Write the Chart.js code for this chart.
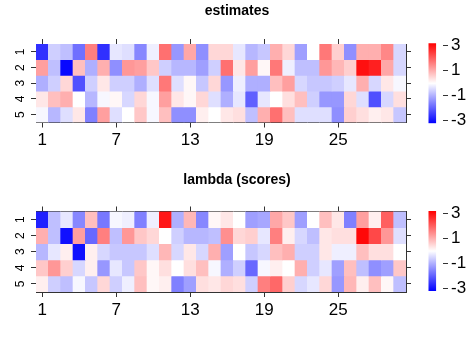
<!DOCTYPE html>
<html>
<head>
<meta charset="utf-8">
<script src="https://cdn.jsdelivr.net/npm/chart.js@4.4.0/dist/chart.umd.min.js"></script>
<style>
  body { margin: 0; background: #fff; }
  #wrap { position: relative; width: 474px; height: 338px; }
  canvas { position: absolute; }
</style>
</head>
<body>
<div id="wrap">
  <canvas id="heatTop" width="474" height="168" style="left:0;top:0"></canvas>
  <canvas id="heatBottom" width="474" height="170" style="left:0;top:168px"></canvas>
  <canvas id="barTop" width="54" height="168" style="left:420px;top:0"></canvas>
  <canvas id="barBottom" width="54" height="170" style="left:420px;top:168px"></canvas>
</div>
<script>
// colonnes et lignes
const colLabels = Array.from({ length: 30 }, (_, i) => String(i + 1));
const rowLabels = [1, 2, 3, 4, 5];
const colorbarTicks = [-3, -2, -1, 0, 1, 2, 3];
const colorLimit = 3.2;

// valeurs (ligne 1 en haut)
const estimates1 = [-2.6, -0.6, -0.8, -1.8, 1.6, -2.6, -0.3, -0.4, -1.5, -0.2, 1.8, -1.3, 1.1, -1.4, 0.5, 0.5, -0.3, -0.9, -0.7, 1.0, 0.5, -1.2, 0.0, 1.7, 0.6, -1.4, 1.0, 1.0, 1.5, -0.5];
const estimates2 = [1.2, -0.8, -3.1, 0.8, -1.0, 1.0, -1.4, 1.3, 1.2, 0.7, -0.6, -0.9, -0.9, -1.2, -0.6, 1.8, 0.3, 1.2, 0.1, 1.7, -0.2, -0.8, -0.8, 1.3, 0.9, 0.6, 3.0, 2.8, 1.1, -0.5];
const estimates3 = [-1.0, -0.6, 0.5, -2.2, -0.6, 0.3, -0.6, -0.6, -1.0, -0.4, 1.7, -0.4, 0.1, -0.7, 0.5, -1.3, -0.2, -1.0, -1.0, 0.8, 1.2, -0.5, -0.7, -0.7, -0.6, -0.3, 1.0, -0.5, 0.3, -0.1];
const estimates4 = [0.3, 0.8, 1.0, 0.0, -0.9, -0.1, 0.1, -0.5, 0.5, -0.1, 1.2, 0.3, 0.1, 0.5, -0.4, -1.0, -0.3, -2.0, -0.3, 0.0, 0.4, 0.8, -0.6, -1.3, -1.3, 0.5, -0.4, -2.2, -0.5, 0.4];
const estimates5 = [-0.1, -0.9, -0.4, 0.3, -1.6, 1.2, -0.4, 0.0, 0.7, -0.1, 0.8, -1.4, -1.4, 0.2, 0.0, 0.3, 0.4, -0.8, 1.0, 1.8, 0.8, -0.4, -0.4, -0.4, -1.4, 0.6, 0.4, 0.2, 0.3, -0.7];

const lambda1 = [-2.8, -0.8, -0.3, -1.5, 0.8, -1.7, -0.1, -0.2, -1.6, -0.2, 2.9, -1.0, 0.9, -1.5, 0.1, 0.3, 0.0, -1.2, -1.1, 1.1, 0.7, -1.2, 0.0, 0.8, 0.3, -1.6, 1.2, 0.2, 2.0, -0.8];
const lambda2 = [1.0, -0.8, -3.0, 1.2, -1.9, 1.6, -0.8, 1.3, 0.7, 0.5, 0.0, -0.6, -0.9, -0.9, -0.8, 1.4, 0.5, 0.6, -0.3, 1.6, 0.2, -0.5, -0.8, 0.3, 0.4, 0.4, 3.1, 2.3, 1.3, -0.4];
const lambda3 = [-0.9, -0.3, 0.2, -3.0, 0.2, -0.5, -0.7, -0.7, -0.7, -0.4, 0.9, -0.5, 0.3, -0.5, 1.0, -1.2, 0.0, -0.7, -0.5, 0.8, 1.0, -0.6, -0.6, 0.3, -0.2, -0.2, 0.8, 0.4, 0.4, 0.0];
const lambda4 = [0.7, 1.3, 0.6, -0.5, 0.2, -1.3, -0.3, -0.7, 0.7, 0.1, 0.4, 0.0, 0.4, 0.8, -0.1, -1.0, -0.6, -1.9, -0.1, 0.2, 0.0, 1.0, -0.6, -0.3, -1.2, 0.8, -0.8, -1.4, -1.2, 0.7];
const lambda5 = [0.2, -0.6, -0.8, -0.1, -0.7, 0.5, -0.6, -0.2, 0.8, 0.1, 0.2, -1.6, -1.2, 0.4, 0.3, 0.5, 0.4, -0.6, 1.6, 1.9, 0.6, -0.5, -0.3, 0.5, -1.3, 0.9, 0.2, 0.8, 0.1, -0.8];

const FONT = '"Liberation Sans", Arial, sans-serif';
const FRAME = '#333';

// bleu -> blanc -> rouge
function colorFor(v) {
  let t = (v + colorLimit) / (2 * colorLimit);
  t = Math.max(0, Math.min(1, t));
  if (t < 0.5) {
    const c = Math.round(255 * t * 2);
    return `rgb(${c},${c},255)`;
  }
  const c = Math.round(255 * (2 - 2 * t));
  return `rgb(255,${c},${c})`;
}

// étiquettes de lignes tournées
const rowLabelPlugin = {
  id: 'rowLabels',
  afterDraw(chart) {
    const ctx = chart.ctx;
    const y = chart.scales.y;
    ctx.save();
    ctx.font = '12px ' + FONT;
    ctx.fillStyle = '#000';
    ctx.textAlign = 'center';
    ctx.textBaseline = 'middle';
    rowLabels.forEach(r => {
      ctx.save();
      ctx.translate(20.5, y.getPixelForValue(r));
      ctx.rotate(-Math.PI / 2);
      ctx.fillText(String(r), 0, 0);
      ctx.restore();
    });
    ctx.restore();
  }
};

function axisGrid() {
  return { drawOnChartArea: false, drawTicks: true, tickLength: 5, color: FRAME, offset: false };
}

function makeHeat(id, title, rows, canvasH, areaTop, areaBottom, titlePad) {
  const titleH = 14 * 1.2 + titlePad;
  new Chart(document.getElementById(id), {
    type: 'bar',
    data: {
      labels: colLabels,
      datasets: rows.map((vals, i) => ({
        data: vals.map(() => [rowLabels[i] - 0.5, rowLabels[i] + 0.5]),
        backgroundColor: vals.map(colorFor),
        borderWidth: 0,
        barPercentage: 1,
        categoryPercentage: 1,
        grouped: false
      }))
    },
    options: {
      responsive: false,
      animation: false,
      devicePixelRatio: 1,
      layout: { padding: 0 },
      plugins: {
        legend: { display: false },
        tooltip: { enabled: false },
        title: {
          display: true,
          text: title,
          color: '#000',
          font: { family: FONT, size: 14, weight: 'bold' },
          padding: { top: titlePad, bottom: 0 }
        }
      },
      scales: {
        x: {
          type: 'category',
          position: 'bottom',
          grid: axisGrid(),
          border: { display: true, color: FRAME },
          ticks: { color: '#000', font: { family: FONT, size: 17 }, padding: 3, maxRotation: 0, autoSkip: false },
          afterBuildTicks: s => { s.ticks = s.ticks.filter(t => t.value % 6 === 0); },
          afterFit: s => { s.height = canvasH - areaBottom; }
        },
        x2: {
          type: 'category',
          labels: colLabels,
          position: 'top',
          grid: axisGrid(),
          border: { display: true, color: FRAME },
          ticks: { display: false, autoSkip: false },
          afterBuildTicks: s => { s.ticks = s.ticks.filter(t => t.value % 6 === 0); },
          afterFit: s => { s.height = areaTop - titleH; }
        },
        y: {
          type: 'linear',
          position: 'left',
          min: 0.5,
          max: 5.5,
          reverse: true,
          grid: axisGrid(),
          border: { display: true, color: FRAME },
          ticks: { display: false },
          afterBuildTicks: s => { s.ticks = rowLabels.map(v => ({ value: v })); },
          afterFit: s => { s.width = 36; }
        },
        y2: {
          type: 'linear',
          position: 'right',
          min: 0.5,
          max: 5.5,
          reverse: true,
          grid: axisGrid(),
          border: { display: true, color: FRAME },
          ticks: { display: false },
          afterBuildTicks: s => { s.ticks = rowLabels.map(v => ({ value: v })); },
          afterFit: s => { s.width = 474 - 406; }
        }
      }
    },
    plugins: [rowLabelPlugin]
  });
}

function makeColorbar(id, canvasH, areaTop, areaBottom) {
  new Chart(document.getElementById(id), {
    type: 'bar',
    data: {
      labels: [''],
      datasets: [{
        data: [[-colorLimit, colorLimit]],
        borderWidth: 0,
        barPercentage: 1,
        categoryPercentage: 1,
        backgroundColor: c => {
          const a = c.chart.chartArea;
          if (!a) return null;
          const g = c.chart.ctx.createLinearGradient(0, a.bottom, 0, a.top);
          g.addColorStop(0, 'rgb(0,0,255)');
          g.addColorStop(0.5, 'rgb(255,255,255)');
          g.addColorStop(1, 'rgb(255,0,0)');
          return g;
        }
      }]
    },
    options: {
      responsive: false,
      animation: false,
      devicePixelRatio: 1,
      layout: { padding: { left: 8.5, top: areaTop, bottom: canvasH - areaBottom, right: 0 } },
      plugins: { legend: { display: false }, tooltip: { enabled: false } },
      scales: {
        x: { display: false, offset: false },
        y: {
          position: 'right',
          min: -colorLimit,
          max: colorLimit,
          grid: { drawOnChartArea: false, drawTicks: true, tickLength: 5, color: FRAME },
          border: { display: false },
          ticks: {
            color: '#000',
            font: { family: FONT, size: 17 },
            padding: 3,
            callback: v => (Math.abs(v) % 2 === 1 ? String(v) : '')
          },
          afterBuildTicks: s => { s.ticks = colorbarTicks.map(v => ({ value: v })); },
          afterFit: s => { s.width = 31; }
        }
      }
    }
  });
}

makeHeat('heatTop', 'estimates', [estimates1, estimates2, estimates3, estimates4, estimates5], 168, 44, 122.5, 3);
makeHeat('heatBottom', 'lambda (scores)', [lambda1, lambda2, lambda3, lambda4, lambda5], 170, 43.5, 124, 4);
makeColorbar('barTop', 168, 43.3, 123.3);
makeColorbar('barBottom', 170, 43, 123);
</script>
</body>
</html>
